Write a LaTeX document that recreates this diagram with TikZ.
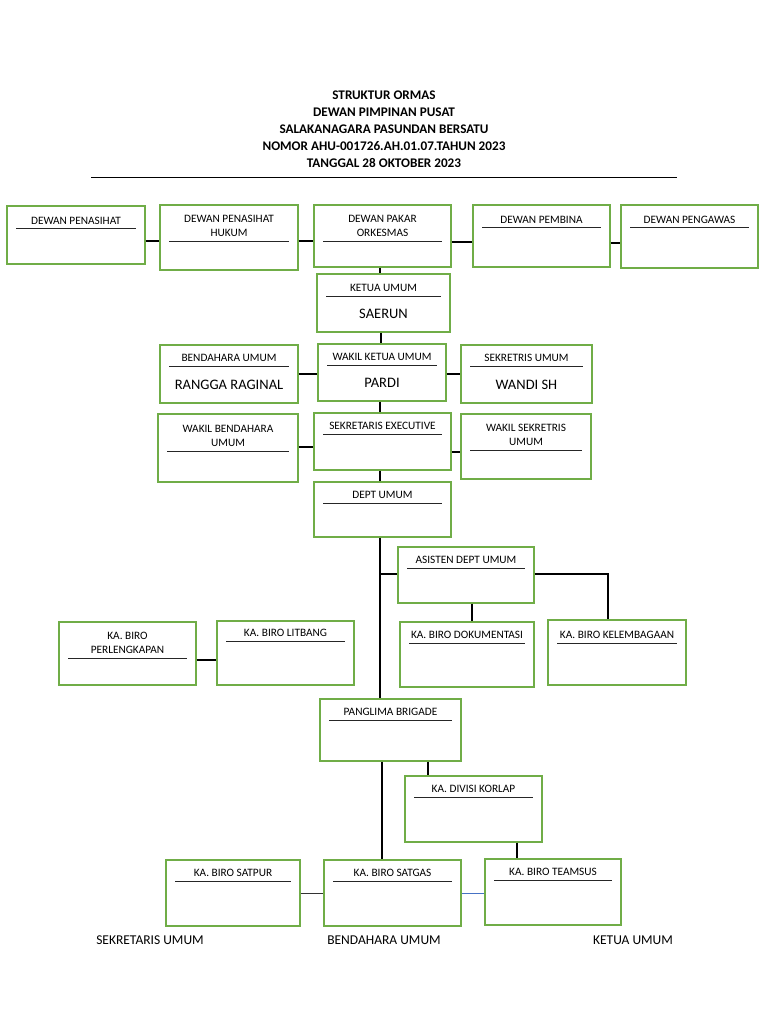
\documentclass[tikz,border=0pt]{standalone}
\usepackage{fontspec}
\setmainfont{Carlito}
\definecolor{bgreen}{RGB}{112,173,71}
\definecolor{lblue}{RGB}{70,114,196}
\newcommand\bx[8]{%
  \node[draw=bgreen,line width=1.1pt,minimum width={(#4-#2)*1pt},minimum height={(#5-#3)*1pt},inner sep=0pt] (#1) at ({(#2+#4)/2},{(#3+#5)/2}) {};
  \draw[line width=1pt,black!85] ({#2+9},#7) -- ({#4-9},#7);
  \node[anchor=south,align=center,font=\fontsize{11.3}{14.5}\selectfont,inner sep=0pt] (#1t) at ({(#2+#4)/2},{#7-4}) {#6};
  \node[font=\fontsize{14.5}{16}\selectfont,inner sep=0pt] (#1n) at ({(#2+#4)/2},{(#7+#5)/2}) {#8};
}
\begin{document}
\begin{tikzpicture}[x=1pt,y=-1pt,conn/.style={line width=1.3pt,black}]
\useasboundingbox (0,0) rectangle (768,1024);
\fill[white] (0,0) rectangle (768,1024);
\node[font=\bfseries\fontsize{13.2}{17}\selectfont,align=center,anchor=north] (title) at (384,87) {STRUKTUR ORMAS\\DEWAN PIMPINAN PUSAT\\SALAKANAGARA PASUNDAN BERSATU\\NOMOR AHU-001726.AH.01.07.TAHUN 2023\\TANGGAL 28 OKTOBER 2023};
\draw[line width=0.8pt] (91,177) -- (677,177);
\bx{dp}{7}{206}{145}{264}{DEWAN PENASIHAT}{229}{}
\bx{dph}{160}{205}{298}{270}{DEWAN PENASIHAT\\HUKUM}{241}{}
\bx{dpo}{314}{205}{451}{267}{DEWAN PAKAR\\ORKESMAS}{241}{}
\bx{dpem}{473}{205}{610}{267}{DEWAN PEMBINA}{228}{}
\bx{dpen}{621}{205}{758}{268}{DEWAN PENGAWAS}{228}{}
\bx{ku}{317}{274}{450}{332}{KETUA UMUM}{296}{SAERUN}
\bx{bu}{160}{345}{298}{403}{BENDAHARA UMUM}{366}{RANGGA RAGINAL}
\bx{wku}{318}{344}{446}{401}{WAKIL KETUA UMUM}{365}{PARDI}
\bx{su}{461}{345}{592}{403}{SEKRETRIS UMUM}{366}{WANDI SH}
\bx{wbu}{158}{414}{298}{482}{WAKIL BENDAHARA\\UMUM}{451}{}
\bx{se}{314}{413}{451}{470}{SEKRETARIS EXECUTIVE}{434}{}
\bx{wsu}{461}{414}{591}{479}{WAKIL SEKRETRIS\\UMUM}{450}{}
\bx{du}{314}{482}{451}{537}{DEPT UMUM}{503}{}
\bx{adu}{398}{547}{534}{603}{ASISTEN DEPT UMUM}{568}{}
\bx{kbp}{59}{622}{196}{685}{KA. BIRO\\PERLENGKAPAN}{658}{}
\bx{kbl}{217}{621}{354}{685}{KA. BIRO LITBANG}{641}{}
\bx{kbd}{400}{622}{534}{687}{KA. BIRO DOKUMENTASI}{643}{}
\bx{kbk}{548}{620}{686}{685}{KA. BIRO KELEMBAGAAN}{643}{}
\bx{pb}{320}{699}{461}{761}{PANGLIMA BRIGADE}{720}{}
\bx{kdk}{405}{776}{542}{842}{KA. DIVISI KORLAP}{797}{}
\bx{kbs}{166}{860}{300}{926}{KA. BIRO SATPUR}{881}{}
\bx{kbsg}{324}{860}{461}{926}{KA. BIRO SATGAS}{881}{}
\bx{kbt}{485}{859}{621}{925}{KA. BIRO TEAMSUS}{880}{}
% connectors
\draw[conn] (dp.east |- 0,241) -- (dph.west |- 0,241);
\draw[conn] (dph.east |- 0,241) -- (dpo.west |- 0,241);
\draw[conn] (dpo.east |- 0,242) -- (dpem.west |- 0,242);
\draw[conn] (dpem.east |- 0,243) -- (dpen.west |- 0,243);
\draw[conn] (dpo.south -| 380,0) -- (ku.north -| 380,0);
\draw[conn] (ku.south -| 381,0) -- (wku.north -| 381,0);
\draw[conn] (bu.east |- 0,374) -- (wku.west |- 0,374);
\draw[conn] (wku.east |- 0,374) -- (su.west |- 0,374);
\draw[conn] (wku.south -| 380,0) -- (se.north -| 380,0);
\draw[conn] (wbu.east |- 0,447) -- (se.west |- 0,447);
\draw[conn] (se.east |- 0,452) -- (wsu.west |- 0,452);
\draw[conn] (se.south -| 380,0) -- (du.north -| 380,0);
\draw[conn] (du.south -| 380,0) -- (pb.north -| 380,0);
\coordinate (br) at (380,574);
\draw[conn] (br) -- (adu.west |- br);
\draw[conn] (adu.east |- br) -| (kbk.north -| 608,0);
\draw[conn] (adu.south -| 472,0) -- (kbd.north -| 472,0);
\draw[conn] (kbp.east |- 0,660) -- (kbl.west |- 0,660);
\draw[conn] (pb.south -| 382,0) -- (kbsg.north -| 382,0);
\draw[conn] (pb.south -| 428,0) -- (kdk.north -| 428,0);
\draw[conn] (kdk.south -| 517,0) -- (kbt.north -| 517,0);
\draw[line width=1pt,black!80] (kbs.east |- 0,893) -- (kbsg.west |- 0,893);
\draw[line width=1pt,lblue] (kbsg.east |- 0,893) -- (kbt.west |- 0,893);
\node[font=\fontsize{13.5}{15}\selectfont] (f1) at (150,940) {SEKRETARIS UMUM};
\node[font=\fontsize{13.5}{15}\selectfont] (f2) at (384,940) {BENDAHARA UMUM};
\node[font=\fontsize{13.5}{15}\selectfont] (f3) at (633,940) {KETUA UMUM};
\end{tikzpicture}
\end{document}
